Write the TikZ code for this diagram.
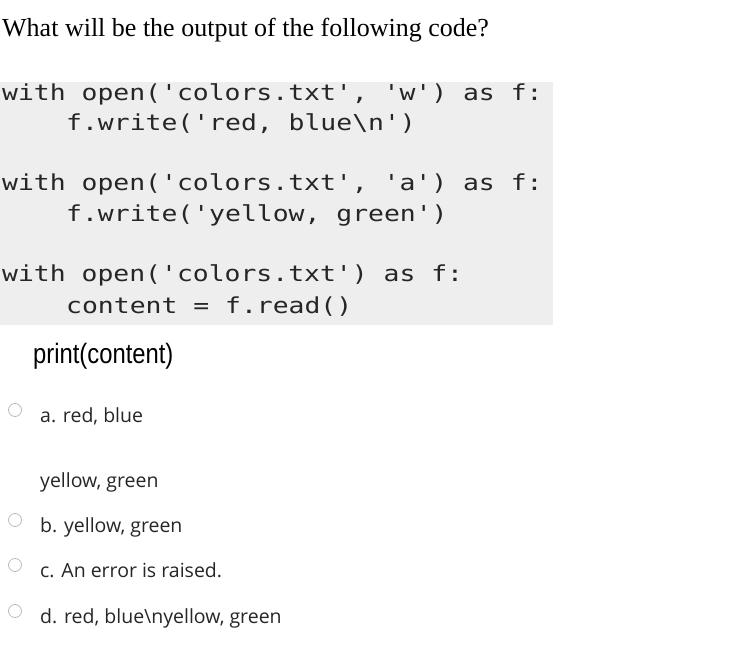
\documentclass[tikz,border=0pt]{standalone}
\usepackage{fontspec}
\setmainfont{Liberation Serif}
\newfontfamily\codefont[FakeStretch=1.2]{DejaVu Sans Mono}
\newfontfamily\printfont[FakeStretch=0.85]{Liberation Sans}
\newfontfamily\optfont{Open Sans}
\definecolor{codebg}{HTML}{EEEEEE}
\definecolor{radio}{HTML}{BBBBBB}
\begin{document}
\begin{tikzpicture}[x=1pt,y=1pt,
  code/.style={anchor=base west,inner sep=0,font=\codefont\fontsize{22}{24}\selectfont,text=black!85},
  opt/.style={anchor=base west,inner sep=0,font=\optfont\fontsize{19.5}{22}\selectfont,text=black!85},
  rb/.style={circle,draw=radio,line width=0.8pt,minimum size=13pt,inner sep=0}]
\useasboundingbox (0,0) rectangle (742,-652);
\node[anchor=base west,inner sep=0,font=\fontsize{26}{28}\selectfont] (title) at (2,-37) {What will be the output of the following code?};
\fill[codebg] (0,-82) rectangle (553,-325);
\node[code] (c1) at (2,-101) {with open('colors.txt', 'w') as f:};
\node[code] (c2) at (66,-131) {f.write('red, blue\textbackslash n')};
\node[code] (c3) at (2,-191) {with open('colors.txt', 'a') as f:};
\node[code] (c4) at (66,-222) {f.write('yellow, green')};
\node[code] (c5) at (2,-282) {with open('colors.txt') as f:};
\node[code] (c6) at (66,-314) {content = f.read()};
\node[anchor=base west,inner sep=0,font=\printfont\fontsize{28}{30}\selectfont] (pr) at (33,-364) {print(content)};
\node[rb] (ra) at (15,-410) {};
\node[opt] (oa) at (40,-422) {a. red, blue};
\node[opt] (oa2) at (40,-487) {yellow, green};
\node[rb] (rbb) at (15,-520) {};
\node[opt] (ob) at (40,-532) {b. yellow, green};
\node[rb] (rc) at (15,-565) {};
\node[opt] (oc) at (40,-577) {c. An error is raised.};
\node[rb] (rd) at (15,-611) {};
\node[opt] (od) at (40,-623) {d. red, blue\textbackslash nyellow, green};
\end{tikzpicture}
\end{document}
